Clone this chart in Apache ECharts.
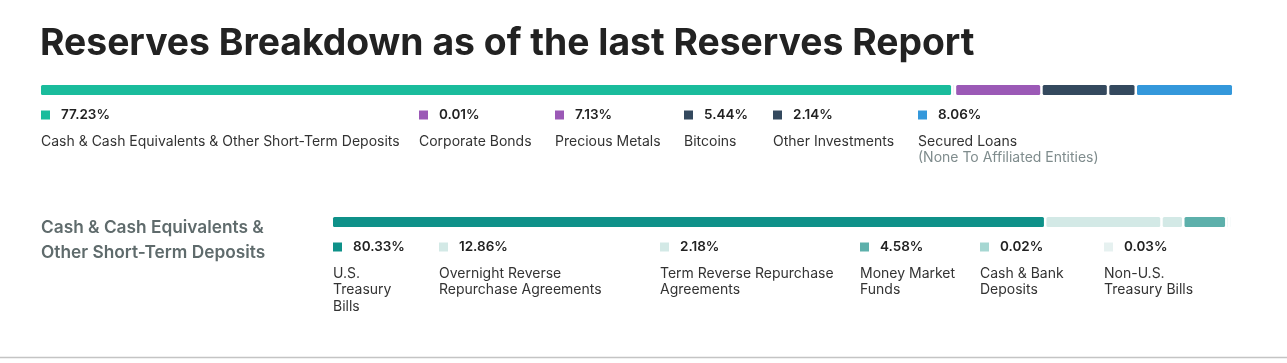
<!DOCTYPE html>
<html>
<head>
<meta charset="utf-8">
<script src="https://cdn.jsdelivr.net/npm/echarts@6/dist/echarts.min.js"></script>
<style>
html,body{margin:0;padding:0;background:#fff;}
#chart{width:1287px;height:363px;}
</style>
</head>
<body>
<div id="chart"></div>
<script>
// ---- data ----
const title = 'Reserves Breakdown as of the last Reserves Report';
const topNames = ['Cash & Cash Equivalents & Other Short-Term Deposits', 'Corporate Bonds', 'Precious Metals', 'Bitcoins', 'Other Investments', 'Secured Loans'];
const topNotes = ['', '', '', '', '', '(None To Affiliated Entities)'];
const topValues = [77.23, 0.01, 7.13, 5.44, 2.14, 8.06];
const subTitle = ['Cash & Cash Equivalents &', 'Other Short-Term Deposits'];
const subNames = ['U.S.\nTreasury\nBills', 'Overnight Reverse\nRepurchase Agreements', 'Term Reverse Repurchase\nAgreements', 'Money Market\nFunds', 'Cash & Bank\nDeposits', 'Non-U.S.\nTreasury Bills'];
const subValues = [80.33, 12.86, 2.18, 4.58, 0.02, 0.03];

// ---- styles / layout ----
const topColors = ['#1abc9c', '#9b59b6', '#9b59b6', '#34495e', '#34495e', '#3498db'];
const subColors = ['#0e9189', '#d3e9e6', '#d3e9e6', '#5db0ab', '#a6d7d2', '#e6f1f0'];
const topLegendX = [41, 419, 555, 684, 773, 918];
const subLegendX = [333, 439, 660, 860, 980, 1104];
const FONT = 'Inter, "Noto Sans", sans-serif';
const GAP = 2.5;      // px gap between segments
const BAR_H = 10;     // px bar thickness
const TOP_BAR = { left: 41, right: 1232 };
const SUB_BAR = { left: 333, right: 1230.5 };

const sum = a => a.reduce((s, v) => s + v, 0);

// build segment items [start, end, category, index] from values
function segments(values, colors) {
  let acc = 0;
  return values.map((v, i) => {
    const item = { value: [acc, acc + v, 0, i], itemStyle: { color: colors[i] } };
    acc += v;
    return item;
  });
}

function renderSeg(params, api) {
  const p0 = api.coord([api.value(0), api.value(2)]);
  const p1 = api.coord([api.value(1), api.value(2)]);
  const idx = api.value(3);
  const w = Math.max(p1[0] - p0[0], 0);
  return {
    type: 'rect',
    shape: { x: p0[0] + idx * GAP, y: p0[1] - BAR_H / 2, width: w, height: BAR_H, r: Math.min(1.5, w / 2) },
    style: { fill: api.visual('color') }
  };
}

const series = [
  {
    type: 'custom', name: 'Reserves', xAxisIndex: 0, yAxisIndex: 0, clip: false, silent: true,
    encode: { x: [0, 1], y: 2 }, renderItem: renderSeg, data: segments(topValues, topColors)
  },
  {
    type: 'custom', name: 'Cash', xAxisIndex: 1, yAxisIndex: 1, clip: false, silent: true,
    encode: { x: [0, 1], y: 2 }, renderItem: renderSeg, data: segments(subValues, subColors)
  }
];

const graphic = [];
graphic.push({ type: 'text', left: 40, top: 25, style: { text: title, font: 'bold 37.3px ' + FONT, fill: '#222' } });

function legendItem(x, yVal, yLab, color, value, label, note, lh) {
  graphic.push({ type: 'rect', shape: { x: x, y: yVal - 4.5, width: 9, height: 9 }, style: { fill: color } });
  graphic.push({ type: 'text', x: x + 20, y: yVal, style: { text: value.toFixed(2) + '%', font: '600 13.5px ' + FONT, fill: '#222', verticalAlign: 'middle' } });
  graphic.push({ type: 'text', x: x, y: yLab - lh / 2, style: { text: label, font: '14px ' + FONT, fill: '#333', verticalAlign: 'top', lineHeight: lh } });
  if (note) {
    graphic.push({ type: 'text', x: x, y: yLab + lh - lh / 2, style: { text: note, font: '14px ' + FONT, fill: '#7f8c8d', verticalAlign: 'top', lineHeight: lh } });
  }
}
topValues.forEach((v, i) => legendItem(topLegendX[i], 115, 142, topColors[i], v, topNames[i], topNotes[i], 16));
subValues.forEach((v, i) => legendItem(subLegendX[i], 247, 273.5, subColors[i], v, subNames[i], '', 16.5));

graphic.push({ type: 'text', x: 41, y: 215.5, style: { text: subTitle.join('\n'), font: '600 17.3px ' + FONT, fill: '#5f6b6c', verticalAlign: 'top', lineHeight: 25 } });
graphic.push({ type: 'line', shape: { x1: 0, y1: 357.5, x2: 1287, y2: 357.5 }, style: { stroke: '#c4c4c4', lineWidth: 1.5 } });

const gapsTop = (topValues.length - 1) * GAP;
const gapsSub = (subValues.length - 1) * GAP;

const option = {
  animation: false,
  backgroundColor: '#fff',
  grid: [
    { left: TOP_BAR.left, right: 1287 - TOP_BAR.right + gapsTop, top: 75, height: 30 },
    { left: SUB_BAR.left, right: 1287 - SUB_BAR.right + gapsSub, top: 207, height: 30 }
  ],
  xAxis: [
    { type: 'value', gridIndex: 0, min: 0, max: sum(topValues), show: false },
    { type: 'value', gridIndex: 1, min: 0, max: sum(subValues), show: false }
  ],
  yAxis: [
    { type: 'category', gridIndex: 0, data: ['Reserves'], show: false },
    { type: 'category', gridIndex: 1, data: ['Cash'], show: false }
  ],
  series: series,
  graphic: graphic
};
const chart = echarts.init(document.getElementById('chart'), null, { renderer: 'canvas' });
chart.setOption(option);
</script>
</body>
</html>
